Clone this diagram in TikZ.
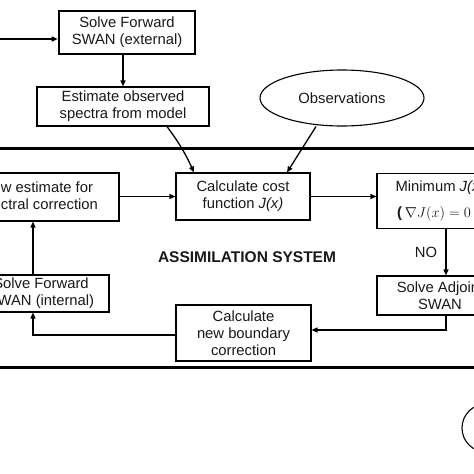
\documentclass[tikz,border=0pt]{standalone}
\usepackage{fontspec}
\setmainfont{Liberation Sans}
\usetikzlibrary{arrows.meta,shapes.geometric,calc}
\tikzset{
  box/.style={draw=black, line width=1.1pt, rectangle, inner sep=0pt, align=center, text=black!90, font=\fontsize{14.8}{17}\selectfont},
  oval/.style={draw=black, line width=1.1pt, ellipse, inner sep=0pt, align=center, text=black!90, font=\fontsize{14.8}{17}\selectfont},
  conn/.style={line width=1.3pt, -{Triangle[length=6pt,width=5pt]}},
  frame/.style={line width=3pt}
}
\begin{document}
\begin{tikzpicture}[x=1pt,y=-1pt]
\clip (0,0) rectangle (474,474);
\fill[white] (0,0) rectangle (474,474);
% frame of the assimilation system
\draw[frame] (-10,148) rectangle (484,367);
% nodes
\node[box, line width=2.6pt, minimum width=136pt, minimum height=43pt] (top) at (127,32.5) {Solve Forward\\SWAN (external)};
\node[box, minimum width=172pt, minimum height=39pt] (est) at (123,106.5) {Estimate observed\\spectra from model};
\node[oval, minimum width=164pt, minimum height=56pt] (obs) at (342,98) {Observations};
\node[box, minimum width=134pt, minimum height=47pt] (calc) at (243,196.5) {Calculate cost\\function \textit{J(x)}};
\node[box, minimum width=163pt, minimum height=48pt] (newest) at (37.5,197) {New estimate for\\spectral correction};
\node[box, minimum width=126pt, minimum height=55pt] (min) at (440,201) {Minimum \textit{J(x)}\\[9pt]\makebox[86pt][l]{\textbf{(}\hspace{3pt}{\fontsize{13.5}{16}\selectfont$\nabla J(x)=0$}\hspace{3pt}\textbf{)}}};
\node[box, minimum width=126pt, minimum height=39pt] (adj) at (440,295.5) {Solve Adjoint\\SWAN};
\node[box, minimum width=136pt, minimum height=37pt] (sfi) at (41,293.5) {Solve Forward\\SWAN (internal)};
\node[box, minimum width=135pt, minimum height=56pt] (bound) at (243.5,333) {Calculate\\new boundary\\correction};
\node[font=\fontsize{15.5}{18}\selectfont\bfseries, text=black!90] (title) at (247,257) {ASSIMILATION SYSTEM};
% connectors
\coordinate (in) at (-5,39);
\draw[conn] (in) -- (in -| top.west);
\draw[conn] (top.south -| est.north) -- (est.north);
\draw[conn] ($(est.south)+(44,0)$) to[bend left=6] ($(calc.north)+(-49,0)$);
\draw[conn] ($(obs.south)+(-26,0)$) -- ($(calc.north)+(44,0)$);
\draw[conn] (newest.east |- calc.west) -- (calc.west);
\draw[conn] (calc.east) -- (calc.east -| min.west);
\draw[conn] ([xshift=6pt]min.south) -- node[left=5pt, font=\fontsize{14.8}{17}\selectfont, text=black!90] (no) {NO} ([xshift=6pt]adj.north);
\draw[conn] ([xshift=6pt]adj.south) |- ($(bound.east)+(0,-3)$);
\draw[conn] ($(bound.west)+(0,2)$) -| ([xshift=-8pt]sfi.south);
\draw[conn] ([xshift=-8pt]sfi.north) -- ([xshift=-4.5pt]newest.south);
% partial ellipse at bottom right
\draw[line width=1.1pt] (486,428) ellipse [x radius=24, y radius=24];
\end{tikzpicture}
\end{document}
